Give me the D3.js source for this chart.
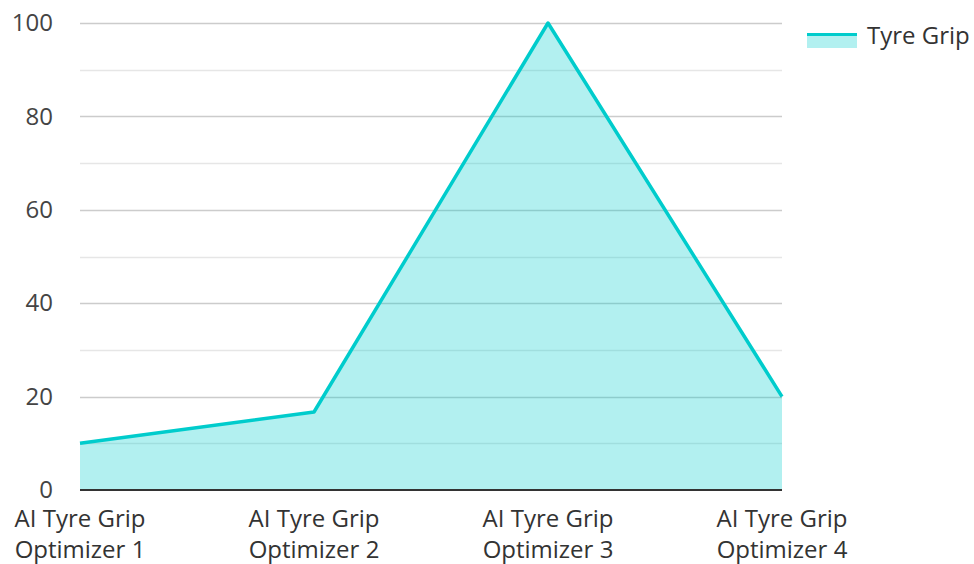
<!DOCTYPE html>
<html>
<head>
<meta charset="utf-8">
<script src="https://cdn.jsdelivr.net/npm/d3@7"></script>
<style>
  html, body { margin: 0; padding: 0; background: #fff; }
  svg { display: block; font-family: "Open Sans", "Noto Sans", sans-serif; }
</style>
</head>
<body>
<svg id="chart" width="974" height="564"></svg>
<script>
// Tyre grip scores per optimizer
const categories = [
  ["AI Tyre Grip", "Optimizer 1"],
  ["AI Tyre Grip", "Optimizer 2"],
  ["AI Tyre Grip", "Optimizer 3"],
  ["AI Tyre Grip", "Optimizer 4"]
];
const gripValues = [10, 16.7, 100, 20];
const yTicks = [0, 20, 40, 60, 80, 100];
const yMinorTicks = [10, 30, 50, 70, 90];
const seriesName = "Tyre Grip";

const svg = d3.select("#chart");
const margin = { left: 80, right: 192, top: 23, bottom: 74 };
const width = 974, height = 564;
const fontSize = 24;

const x = d3.scalePoint()
  .domain(d3.range(categories.length))
  .range([margin.left, width - margin.right]);
const y = d3.scaleLinear()
  .domain([0, 100])
  .range([height - margin.bottom, margin.top]);

const lineColor = "#00cccc";

// minor grid
svg.append("g")
  .selectAll("line")
  .data(yMinorTicks)
  .join("line")
  .attr("x1", margin.left).attr("x2", width - margin.right)
  .attr("y1", d => Math.round(y(d)) + 0.5).attr("y2", d => Math.round(y(d)) + 0.5)
  .attr("stroke", "#e6e6e6").attr("stroke-width", 1.5);

// major grid
svg.append("g")
  .selectAll("line")
  .data(yTicks.filter(d => d > 0))
  .join("line")
  .attr("x1", margin.left).attr("x2", width - margin.right)
  .attr("y1", d => Math.round(y(d)) + 0.5).attr("y2", d => Math.round(y(d)) + 0.5)
  .attr("stroke", "#cccccc").attr("stroke-width", 1.5);

// area
const area = d3.area()
  .x((d, i) => x(i))
  .y0(y(0))
  .y1(d => y(d));
svg.append("path")
  .datum(gripValues)
  .attr("d", area)
  .attr("fill", lineColor)
  .attr("fill-opacity", 0.3);

// line
const line = d3.line()
  .x((d, i) => x(i))
  .y(d => y(d));
svg.append("path")
  .datum(gripValues)
  .attr("d", line)
  .attr("fill", "none")
  .attr("stroke", lineColor)
  .attr("stroke-width", 3.5)
  .attr("stroke-linejoin", "round");

// x axis baseline
svg.append("line")
  .attr("x1", margin.left).attr("x2", width - margin.right)
  .attr("y1", y(0)).attr("y2", y(0))
  .attr("stroke", "#333333").attr("stroke-width", 2);

// y axis labels
const yAxis = d3.axisLeft(y).tickValues(yTicks).tickSize(0).tickPadding(27);
const gy = svg.append("g")
  .attr("transform", `translate(${margin.left},0)`)
  .call(yAxis);
gy.select(".domain").remove();
gy.selectAll("text")
  .attr("font-family", "'Open Sans', 'Noto Sans', sans-serif")
  .attr("font-size", fontSize)
  .attr("fill", "#444444");

// x axis labels
const gx = svg.append("g");
categories.forEach((lines, i) => {
  const t = gx.append("text")
    .attr("x", x(i))
    .attr("y", y(0) + 37)
    .attr("text-anchor", "middle")
    .attr("font-size", fontSize)
    .attr("fill", "#333333");
  lines.forEach((s, j) => {
    t.append("tspan")
      .attr("x", x(i))
      .attr("dy", j === 0 ? 0 : 31)
      .text(s);
  });
});

// legend
const lg = svg.append("g").attr("transform", "translate(807,33)");
lg.append("rect")
  .attr("x", 0).attr("y", 0).attr("width", 50).attr("height", 15)
  .attr("fill", lineColor).attr("fill-opacity", 0.3);
lg.append("line")
  .attr("x1", 0).attr("x2", 50).attr("y1", 1.5).attr("y2", 1.5)
  .attr("stroke", lineColor).attr("stroke-width", 3);
lg.append("text")
  .attr("x", 60).attr("y", 11)
  .attr("font-size", fontSize)
  .attr("fill", "#333333")
  .text(seriesName);
</script>
</body>
</html>
